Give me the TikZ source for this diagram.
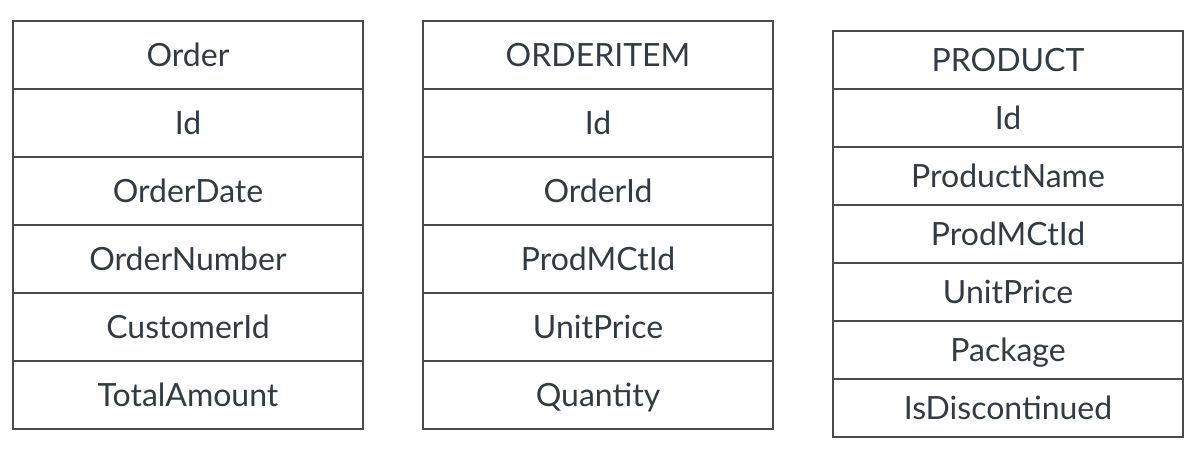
\documentclass[tikz,border=0pt]{standalone}
\usepackage{fontspec}
\setmainfont{Lato}
\definecolor{txt}{HTML}{333A42}
\definecolor{ln}{HTML}{4A4A4A}
\begin{document}
\begin{tikzpicture}[x=1pt,y=-1pt,
  cell/.style={draw=ln,line width=1.6pt,rectangle,minimum width=350pt,inner sep=0pt,
    text=txt,font=\fontsize{32}{34}\selectfont,text height=23pt,text depth=-2.5pt,
    anchor=north west,outer sep=0pt},
  tall/.style={cell,minimum height=68pt},
  short/.style={cell,minimum height=58pt}]
\useasboundingbox[fill=white] (0,0) rectangle (1200,456);
% Order
\foreach \t [count=\i from 0] in {Order,Id,OrderDate,OrderNumber,CustomerId,TotalAmount}
  \node[tall] (o\i) at (13,21+68*\i) {\t};
% ORDERITEM
\foreach \t [count=\i from 0] in {ORDERITEM,Id,OrderId,ProdMCtId,UnitPrice,Quantity}
  \node[tall] (oi\i) at (423,21+68*\i) {\t};
% PRODUCT
\foreach \t [count=\i from 0] in {PRODUCT,Id,ProductName,ProdMCtId,UnitPrice,Package,IsDiscontinued}
  \node[short] (p\i) at (833,31+58*\i) {\t};
\end{tikzpicture}
\end{document}
